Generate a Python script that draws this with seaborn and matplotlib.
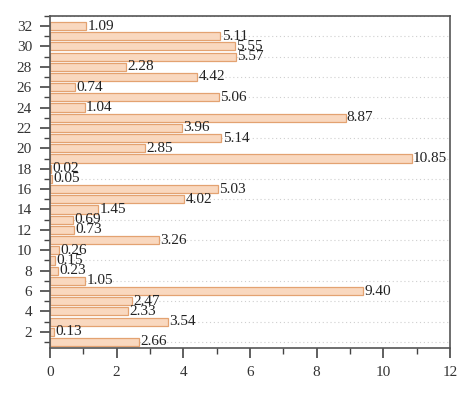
import matplotlib
matplotlib.use("Agg")
import matplotlib.pyplot as plt
import seaborn as sns
import numpy as np
import pandas as pd
from matplotlib.ticker import MultipleLocator

positions = list(range(1, 33))
values = [2.66, 0.13, 3.54, 2.33, 2.47, 9.40, 1.05, 0.23, 0.15, 0.26,
          3.26, 0.73, 0.69, 1.45, 4.02, 5.03, 0.05, 0.02, 10.85, 2.85,
          5.14, 3.96, 8.87, 1.04, 5.06, 0.74, 4.42, 2.28, 5.57, 5.55,
          5.11, 1.09]
labels = ["%.2f" % v for v in values]

df = pd.DataFrame({"pos": positions, "value": values})

sns.set_style("ticks")
plt.rcParams["font.family"] = ["Liberation Serif", "DejaVu Serif"]

fig = plt.figure(figsize=(4.74, 3.96), dpi=100)
ax = fig.add_axes([0.1055, 0.121, 0.8435, 0.839])

# dotted guide lines at the odd positions, behind the bars
for y in range(1, 34, 2):
    ax.axhline(y, color="#cfcfcf", lw=0.8, ls=(0, (1, 2.5)), zorder=0)

sns.barplot(data=df, x="value", y="pos", orient="h", native_scale=True,
            color="#f9d8bf", edgecolor="#e3a271", linewidth=0.9,
            width=0.8, saturation=1, ax=ax, zorder=2)

for p, v, t in zip(positions, values, labels):
    ax.text(v + 0.04, p, t, va="center", ha="left", fontsize=11,
            color="#222222", zorder=3)

ax.set_xlim(0, 12)
ax.set_ylim(0.4, 33)
ax.xaxis.set_major_locator(MultipleLocator(2))
ax.xaxis.set_minor_locator(MultipleLocator(1))
ax.yaxis.set_major_locator(MultipleLocator(2))
ax.yaxis.set_minor_locator(MultipleLocator(1))
ax.set_xlabel("")
ax.set_ylabel("")
ax.tick_params(which="major", direction="out", length=7, width=1.2,
               color="#444444", labelsize=11, labelcolor="#333333", pad=6)
ax.tick_params(which="minor", direction="out", length=4, width=1.0,
               color="#444444")
for s in ax.spines.values():
    s.set_visible(True)
    s.set_color("#555555")
    s.set_linewidth(1.2)

fig.savefig("out.png", dpi=100)
